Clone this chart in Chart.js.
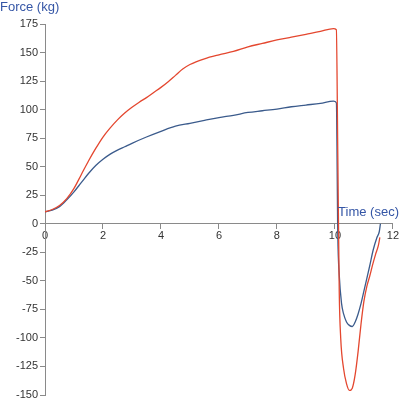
<!DOCTYPE html>
<html>
<head>
<meta charset="utf-8">
<script src="https://cdn.jsdelivr.net/npm/chart.js@4"></script>
<style>
  body { margin: 0; background: #fff; }
  canvas { display: block; }
</style>
</head>
<body>
<canvas id="grafico" width="400" height="400"></canvas>
<script>
// Tempo (s) e força (kg)
const tempoVermelho = [0, 0.25, 0.5, 0.75, 1.0, 1.25, 1.5, 1.75, 2.0, 2.25, 2.5, 2.75, 3.0, 3.25, 3.5, 3.75, 4.0, 4.25, 4.5, 4.75, 5.0, 5.5, 6.0, 6.5, 7.0, 7.5, 8.0, 8.5, 9.0, 9.5, 9.95, 10.05, 10.1, 10.15, 10.2, 10.3, 10.4, 10.5, 10.6, 10.7, 10.8, 10.9, 11.0, 11.1, 11.2, 11.3, 11.4, 11.5, 11.55];
const forcaVermelho = [10.5, 12.5, 16, 22, 31, 43, 55, 66, 76, 84, 91, 97, 102, 106.5, 110.5, 115, 119.5, 124.5, 130, 135.5, 139.5, 144.5, 148, 151, 155, 158, 161, 163.5, 166, 168.5, 171, 170, 60, -60, -100, -127, -140, -146, -144, -132, -112, -88, -68, -55, -46, -36, -27, -19, -12];

const tempoAzul = [0, 0.25, 0.5, 0.75, 1.0, 1.25, 1.5, 1.75, 2.0, 2.25, 2.5, 2.75, 3.0, 3.5, 4.0, 4.5, 5.0, 5.5, 6.0, 6.5, 7.0, 7.5, 8.0, 8.5, 9.0, 9.5, 9.95, 10.05, 10.1, 10.15, 10.23, 10.3, 10.4, 10.5, 10.6, 10.7, 10.8, 10.9, 11.0, 11.1, 11.2, 11.32, 11.45, 11.53, 11.57];
const forcaAzul = [10.5, 12, 15, 21, 28, 36, 44, 51, 56.5, 61, 64.5, 67.5, 70.5, 76, 81, 85.5, 88, 90.5, 93, 95, 97.5, 99, 100.5, 102.5, 104, 105.5, 107.5, 106, -10, -45, -70, -79, -86, -89, -90, -86, -79, -70, -59, -48, -37, -23, -12, -7, 0];

const ticksX = { min: 0, max: 12, passo: 2 };
const ticksY = { min: -150, max: 175, passo: 25 };

function pares(xs, ys) {
  return xs.map((x, i) => ({ x: x, y: ys[i] }));
}

const corEixo = '#8a8a8a';
const corTitulo = '#3556a6';

const titulosEixos = {
  id: 'titulosEixos',
  afterDraw(chart) {
    const ctx = chart.ctx;
    ctx.save();
    ctx.font = '13px "Liberation Sans", Arial, sans-serif';
    ctx.fillStyle = corTitulo;
    ctx.textAlign = 'left';
    ctx.textBaseline = 'alphabetic';
    ctx.fillText('Force (kg)', 0, 11);
    ctx.textAlign = 'right';
    ctx.fillText('Time (sec)', 399, 216);
    ctx.restore();
  }
};

const ctx = document.getElementById('grafico').getContext('2d');
new Chart(ctx, {
  type: 'line',
  data: {
    datasets: [
      {
        label: 'Force 1',
        data: pares(tempoVermelho, forcaVermelho),
        borderColor: '#e4472f',
        borderWidth: 1.3,
        pointRadius: 0,
        cubicInterpolationMode: 'monotone'
      },
      {
        label: 'Force 2',
        data: pares(tempoAzul, forcaAzul),
        borderColor: '#3b5b8c',
        borderWidth: 1.3,
        pointRadius: 0,
        cubicInterpolationMode: 'monotone'
      }
    ]
  },
  options: {
    responsive: false,
    animation: false,
    layout: { padding: { top: 24, right: 7, bottom: 5, left: 0 } },
    plugins: { legend: { display: false }, tooltip: { enabled: false } },
    scales: {
      x: {
        type: 'linear',
        position: { y: 0 },
        min: ticksX.min,
        max: ticksX.max,
        ticks: { stepSize: ticksX.passo, color: '#333', font: { family: '"Liberation Sans", Arial', size: 11 }, padding: 1, maxRotation: 0 },
        grid: { drawOnChartArea: false, tickLength: 5, color: corEixo },
        border: { color: corEixo, width: 1 }
      },
      y: {
        min: ticksY.min,
        max: ticksY.max,
        ticks: { stepSize: ticksY.passo, color: '#333', font: { family: '"Liberation Sans", Arial', size: 11, lineHeight: 0.5 }, padding: 2 },
        grid: { drawOnChartArea: false, tickLength: 5, color: corEixo },
        border: { color: corEixo, width: 1 },
        afterFit(scale) { scale.width = 45; }
      }
    }
  },
  plugins: [titulosEixos]
});
</script>
</body>
</html>
